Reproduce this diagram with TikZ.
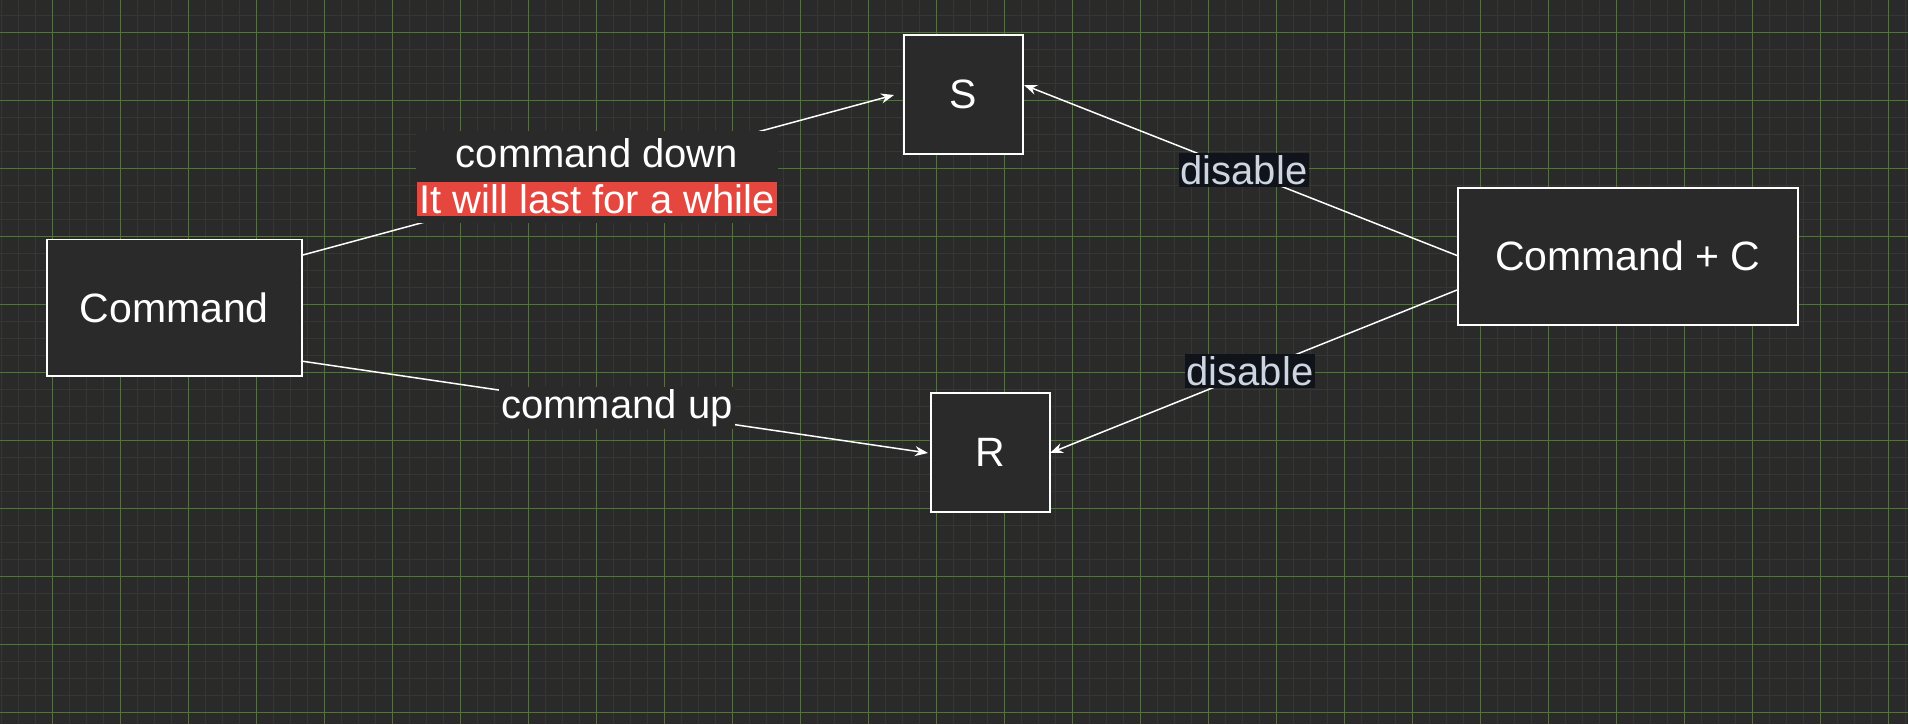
\documentclass[tikz,border=0pt]{standalone}
\usepackage{fontspec}
\setmainfont{Liberation Sans}
\usetikzlibrary{arrows.meta}
\definecolor{bgc}{HTML}{2A2A2A}
\definecolor{minorc}{HTML}{343830}
\definecolor{majorc}{HTML}{4C7A2C}
\definecolor{redbg}{HTML}{E5473F}
\definecolor{dbg}{HTML}{10131A}
\definecolor{ltxt}{HTML}{CDD5E0}
\tikzset{
  box/.style={draw=white, line width=1.5pt, fill=bgc, text=white, font=\fontsize{41}{48}\selectfont, anchor=north west, inner sep=0pt},
  conn/.style={draw=white, line width=1.5pt, -{Stealth[length=13pt,width=10pt]}},
  lab/.style={text=white, font=\fontsize{40}{46}\selectfont, inner sep=2pt},
}
\begin{document}
\begin{tikzpicture}[x=1pt,y=-1pt]
\fill[bgc] (0,0) rectangle (1908,724);
\useasboundingbox (0,0) rectangle (1908,724);
\foreach \i in {0,...,112} {\draw[minorc,line width=1pt] ({1.3+17*\i},0) -- ({1.3+17*\i},724);}
\foreach \i in {0,...,42} {\draw[minorc,line width=1pt] (0,{15.3+17*\i}) -- (1908,{15.3+17*\i});}
\foreach \i in {0,...,28} {\draw[majorc,line width=1pt] ({52.3+68*\i-68},0) -- ({52.3+68*\i-68},724);}
\foreach \i in {0,...,11} {\draw[majorc,line width=1pt] (0,{32.3+68*\i-68}) -- (1908,{32.3+68*\i-68});}
\node[box, minimum width=255pt, minimum height=136.5pt] (cmd) at (46,238.5) {};
\node[text=white, font=\fontsize{41}{48}\selectfont] at (cmd.center) {Command};
\node[box, minimum width=119pt, minimum height=119pt] (s) at (903,34) {};
\node[text=white, font=\fontsize{41}{48}\selectfont] at (s.center) {S};
\node[box, minimum width=119pt, minimum height=119pt] (r) at (930,392) {};
\node[text=white, font=\fontsize{41}{48}\selectfont] at (r.center) {R};
\node[box, minimum width=340pt, minimum height=137pt] (cc) at (1457,187) {};
\node[text=white, font=\fontsize{41}{48}\selectfont] at (cc.center) {Command + C};
\coordinate (a1) at (301,255.5); \coordinate (a2) at (894,95);
\coordinate (b1) at (301,361); \coordinate (b2) at (928,453);
\coordinate (c1) at (1457,255.5); \coordinate (c2) at (1024,85);
\coordinate (d1) at (1457,290); \coordinate (d2) at (1050,453);
\draw[conn] (a1) -- (a2);
\draw[conn] (b1) -- (b2);
\draw[conn] (c1) -- (c2);
\draw[conn] (d1) -- (d2);
\node[fill=bgc, minimum width=362pt, minimum height=92pt, inner sep=0pt] (lbg) at (597,177) {};
\node[lab, fill=bgc] (l1) at (597,153) {command down};
\node[lab, fill=redbg] (l2) at (597,199) {It will last for a while};
\node[lab, fill=bgc] (l3) at (617,408) {command up};
\node[lab, fill=dbg, text=ltxt] (l4) at (1244,170) {disable};
\node[lab, fill=dbg, text=ltxt] (l5) at (1250,371) {disable};
\end{tikzpicture}
\end{document}
